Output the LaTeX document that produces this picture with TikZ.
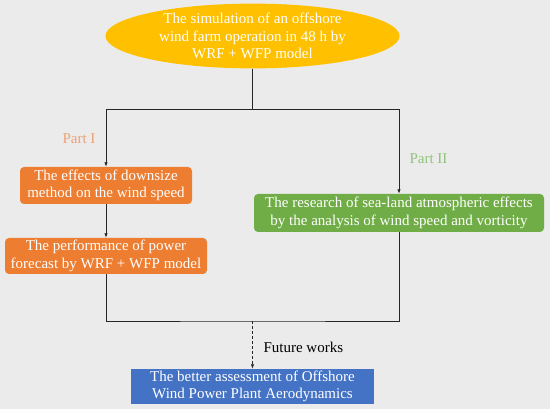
\documentclass[tikz,border=0pt]{standalone}
\usepackage{fontspec}
\setmainfont{Liberation Serif}
\usepackage{xcolor}
\usetikzlibrary{positioning, shapes.geometric, arrows.meta}

\definecolor{bgcol}{HTML}{EBEBEB}
\definecolor{goldcol}{HTML}{FFC000}
\definecolor{orangecol}{HTML}{ED7D31}
\definecolor{greencol}{HTML}{70AD47}
\definecolor{bluecol}{HTML}{4472C4}
\definecolor{partIcol}{HTML}{EDA276}
\definecolor{partIIcol}{HTML}{93C47D}

\begin{document}
\begin{tikzpicture}[x=1pt, y=-1pt,
    font=\fontsize{15}{17.5}\selectfont,
    box/.style={rounded corners=4pt, text=white, align=center, inner sep=0pt},
    link/.style={line width=0.8pt, black!85},
    tip/.style={-{Latex[length=4.5pt, width=3.5pt]}}]
        \fill[bgcol] (0,0) rectangle (550,409);
        \useasboundingbox (0,0) rectangle (550,409);

        % Top
        \node (sim) [ellipse, fill=goldcol, text=white, align=center, inner sep=0pt,
          minimum width=294, minimum height=62] at (252.5,36)
          {The simulation of an offshore\\wind farm operation in 48 h by\\WRF + WFP model};

        % Part I
        \node (effects) [box, fill=orangecol, minimum width=172, minimum height=37] at (106,185.5)
          {The effects of downsize\\method on the wind speed};
        \node (forecast) [box, fill=orangecol, minimum width=202, minimum height=36] at (106,256)
          {The performance of power\\forecast by WRF + WFP model};

        % Part II
        \node (research) [box, fill=greencol, minimum width=290, minimum height=38] at (399,213)
          {The research of sea-land atmospheric effects\\by the analysis of wind speed and vorticity};

        % Future
        \node (better) [box, rounded corners=0pt, fill=bluecol, minimum width=243, minimum height=35] at (252.5,386.5)
          {The better assessment of Offshore\\Wind Power Plant Aerodynamics};

        \coordinate (split) at (252.5,109);
        \coordinate (merge) at (252.5,321);

        \draw[link] (sim) -- (split);
        \draw[link, tip] (split) -| (effects);
        \draw[link, tip] (split) -| (research);
        \draw[link, tip] (effects) -- (forecast);
        \draw[link] (forecast) |- (merge) -| (research);
        \draw[link, tip, dashed, dash pattern=on 3pt off 2pt] (merge) -- (better);

        \node (partI) [anchor=east, text=partIcol] at (99,139) {Part I};
        \node (partII) [anchor=west, text=partIIcol] at (406,159) {Part II};
        \node (future) [anchor=west] at (260,347) {Future works};
      \end{tikzpicture}
\end{document}
